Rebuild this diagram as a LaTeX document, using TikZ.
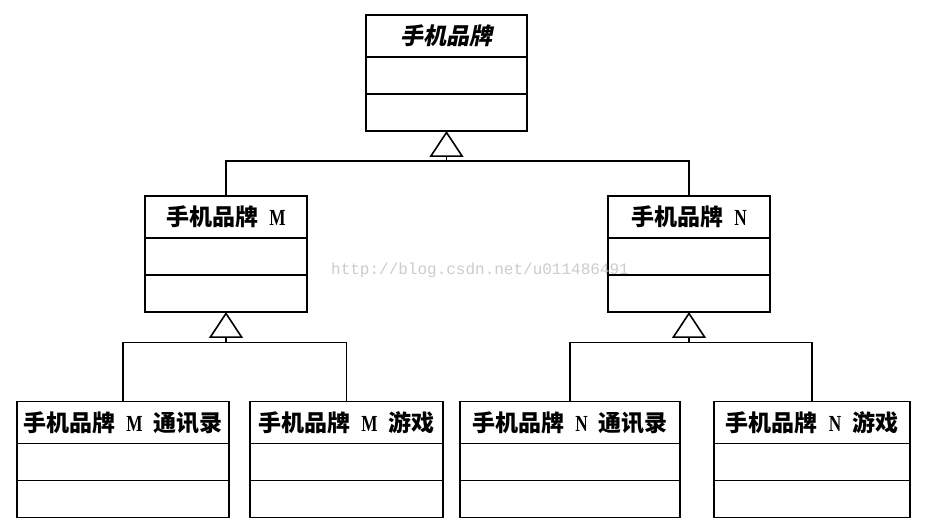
\documentclass[tikz,border=0pt]{standalone}
\usepackage{fontspec}
\newfontfamily\cjk{Noto Sans CJK SC}
\newfontfamily\cjkit[FakeSlant=0.2]{Noto Sans CJK SC}
\newfontfamily\latin[FakeStretch=0.75]{Liberation Serif}
\newfontfamily\mono{Liberation Mono}
\usetikzlibrary{positioning,arrows.meta}
\newcommand\brandof[1]{手机品牌\kern11pt{\latin #1}}

\begin{document}
\begin{tikzpicture}[x=1pt,y=-1pt,
  cls/.style={draw,line width=1.8pt,minimum height=42pt,inner sep=0pt,outer sep=0pt,font=\cjk\bfseries\fontsize{23}{23}\selectfont},
  slot/.style={draw,line width=1.8pt,minimum height=37pt,inner sep=0pt,outer sep=0pt},
  gen/.style={line width=1.4pt,-{Triangle[open,length=26pt,width=34pt,line width=1.6pt]}}]
\fill[white] (0,0) rectangle (940,521);
\useasboundingbox (0,0) rectangle (940,521);
% class boxes: name, x, y, width, title
\foreach \n/\x/\y/\w/\t in {brand/446.5/36/161/{{\cjkit 手机品牌}},
  m/226/217/162/{\brandof{M}}, n/689/217/162/{\brandof{N}},
  mbook/123/422.5/212/{\brandof{M}\kern11pt通讯录}, mgame/346.5/422.5/193/{\brandof{M}\kern11pt游戏},
  nbook/570/422.5/220/{\brandof{N}\kern11pt通讯录}, ngame/812/422.5/196/{\brandof{N}\kern11pt游戏}}
{
  \node[cls,minimum width=\w pt] (\n) at (\x,\y) {\t};
  \node[slot,minimum width=\w pt,below=0pt of \n] (\n-a) {};
  \node[slot,minimum width=\w pt,below=0pt of \n-a] (\n-b) {};
}
% generalisation
\draw[line width=1.4pt] (m.north) -- ++(0,-35) coordinate (bar1) -| (n.north);
\draw[gen] (bar1 -| brand-b.south) -- (brand-b.south);
\draw[line width=1.4pt] (mbook.north) -- ++(0,-59) coordinate (bar2) -| (mgame.north);
\draw[gen] (bar2 -| m-b.south) -- (m-b.south);
\draw[line width=1.4pt] (nbook.north) -- ++(0,-59) coordinate (bar3) -| (ngame.north);
\draw[gen] (bar3 -| n-b.south) -- (n-b.south);
\node[text=black!20,font=\mono\fontsize{16}{16}\selectfont] (mark) at (480,270) {http://blog.csdn.net/u011486491};
\end{tikzpicture}
\end{document}
